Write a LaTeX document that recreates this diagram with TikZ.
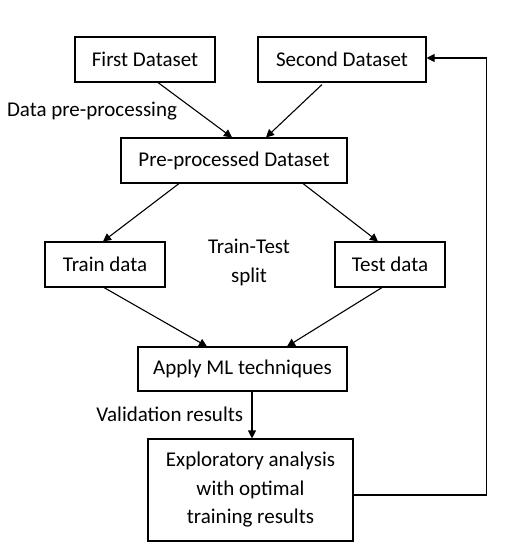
\documentclass[tikz,border=0pt]{standalone}
\usepackage{fontspec}
\setmainfont{Carlito}
\usetikzlibrary{arrows.meta}

\tikzset{
	block/.style={rectangle,draw,line width=1.1pt,inner sep=0pt,align=center},
	>={Triangle[length=8pt,width=8pt]}
}

\begin{document}
\begin{tikzpicture}[x=1pt,y=-1pt,line width=1.1pt,font=\fontsize{21}{28.5}\selectfont]

	\useasboundingbox (0,0) rectangle (510,550);

	\node[block,minimum width=140pt,minimum height=45pt] (first) at (145,59.5) {First Dataset};
	\node[block,minimum width=168pt,minimum height=45pt] (second) at (342,59.5) {Second Dataset};
	\node[block,minimum width=226pt,minimum height=45pt] (pre) at (234,160.5) {Pre-processed Dataset};
	\node[block,minimum width=120pt,minimum height=45pt] (train) at (105,264.5) {Train data};
	\node[block,minimum width=110pt,minimum height=45pt] (test) at (390,264.5) {Test data};
	\node[block,minimum width=209pt,minimum height=44pt] (apply) at (242.5,369) {Apply ML techniques};
	\node[block,minimum width=205pt,minimum height=102pt] (explore) at (250.5,490) {Exploratory analysis\\with optimal\\training results};

	\node (prep) at (92,111) {Data pre-processing};
	\node[align=center] (split) at (249,262.5) {Train-Test\\split};
	\node[anchor=east] (valid) at (247,414) {Validation results};

	\path[->] ([xshift=13pt]first.south) edge ([xshift=-2pt]pre.north);
	\path[->] ([xshift=-20pt,yshift=-2pt]second.south) edge ([xshift=32pt]pre.north);

	\path[->] ([xshift=-55pt]pre.south) edge ([xshift=-2pt]train.north);
	\path[->] ([xshift=69pt]pre.south) edge ([xshift=-12pt]test.north);

	\path[->] ([xshift=-1pt]train.south) edge ([xshift=-35.5pt]apply.north);
	\path[->] ([xshift=-8pt]test.south) edge ([xshift=44.5pt]apply.north);

	\path[->] ([xshift=9.5pt]apply.south) edge ([xshift=1.5pt]explore.north);

	\draw[->] ([yshift=-5pt]explore.east) -| ([xshift=60pt,yshift=1.5pt]second.east) -- ([yshift=1.5pt]second.east);

\end{tikzpicture}
\end{document}
